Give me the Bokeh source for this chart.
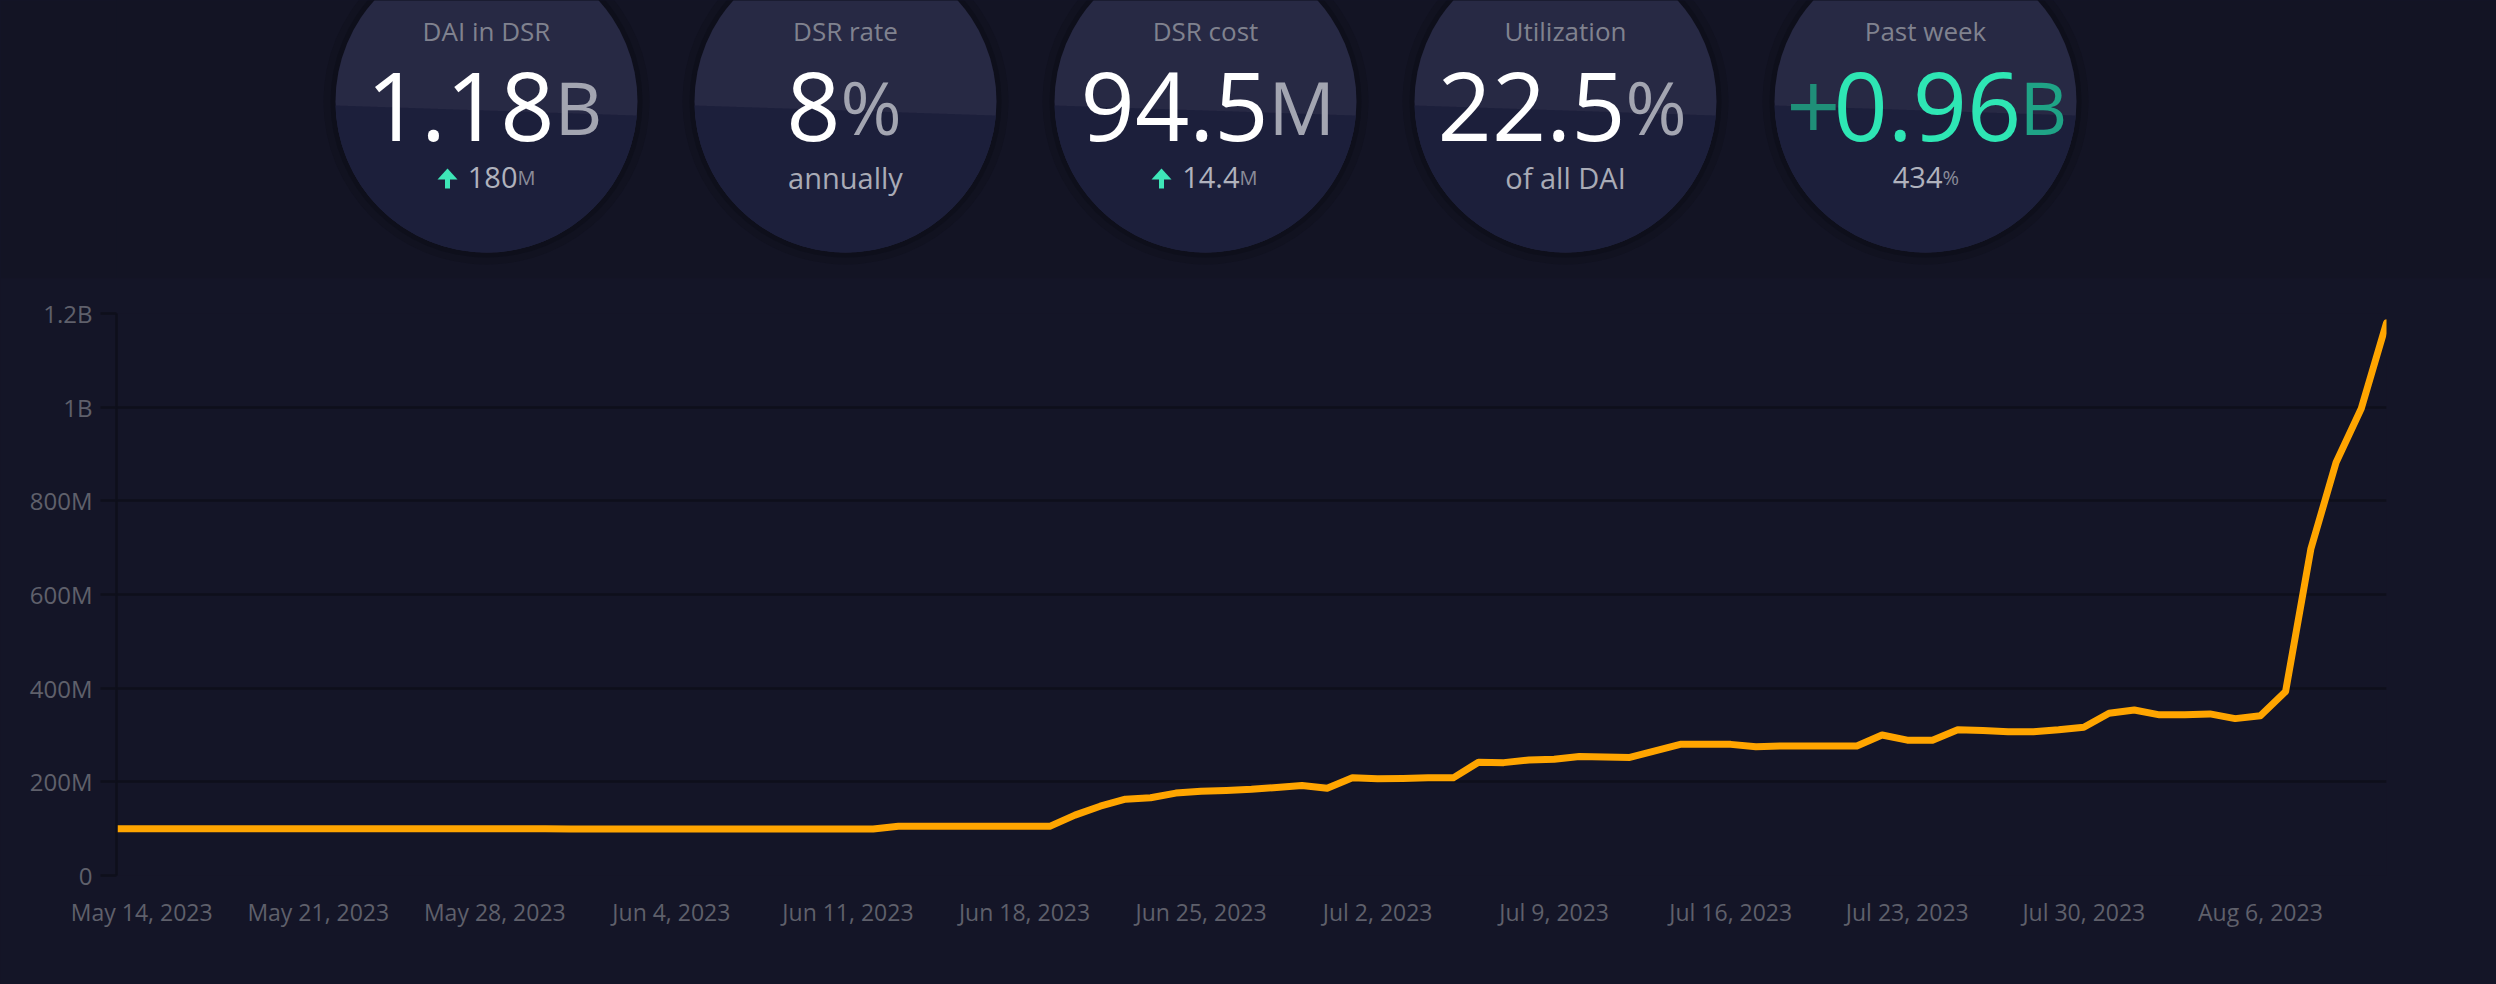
import numpy as np
import pandas as pd
from bokeh.plotting import figure
from bokeh.models import Range1d, FixedTicker, ColumnDataSource
from bokeh.layouts import column
from bokeh.embed import file_html
from bokeh.resources import INLINE
from bokeh.core.properties import value

# ---------------- data ----------------
start_date = "2023-05-13"
dai_in_dsr_millions = [
    100, 100, 100, 100, 100, 100, 100, 100, 100, 100,
    100, 100, 100, 100, 100, 100, 100, 100,
    99.3, 99.3, 99.3, 99.3, 99.3, 99.3, 99.3, 99.3, 99.3, 99.3, 99.3, 99.3, 99.3,
    105, 105, 105, 105, 105, 105, 105,
    129, 148, 163, 166, 176, 180, 181.5, 184, 188, 192,
    186.5, 208.5, 206.5, 207, 208.5, 208.5, 242, 241, 246.5, 248,
    254, 253, 252, 266, 280, 280, 280, 275, 276.5, 276.5,
    276.5, 276.5, 300, 289, 289, 311, 309.5, 307, 307, 311,
    316.5, 346.5, 353.5, 343, 343, 345, 335, 341, 393, 697,
    882, 997, 1180,
]
tick_dates = ["2023-05-14", "2023-05-21", "2023-05-28", "2023-06-04", "2023-06-11",
              "2023-06-18", "2023-06-25", "2023-07-02", "2023-07-09", "2023-07-16",
              "2023-07-23", "2023-07-30", "2023-08-06"]
tick_labels = ["May 14, 2023", "May 21, 2023", "May 28, 2023", "Jun 4, 2023", "Jun 11, 2023",
               "Jun 18, 2023", "Jun 25, 2023", "Jul 2, 2023", "Jul 9, 2023", "Jul 16, 2023",
               "Jul 23, 2023", "Jul 30, 2023", "Aug 6, 2023"]
y_ticks = [0, 200_000_000, 400_000_000, 600_000_000, 800_000_000, 1_000_000_000, 1_200_000_000]
y_labels = ["0", "200M", "400M", "600M", "800M", "1B", "1.2B"]

stat_titles = ["DAI in DSR", "DSR rate", "DSR cost", "Utilization", "Past week"]
stat_values = ["1.18", "8", "94.5", "22.5", "0.96"]
stat_units = ["B", "%", "M", "%", "B"]
stat_sub_values = ["180", "annually", "14.4", "of all DAI", "434"]
stat_sub_units = ["M", "", "M", "", "%"]
stat_sub_arrow = [True, False, True, False, False]

# ---------------- style / layout ----------------
FONT = value("Open Sans")
TOP_BG = "#131424"
BG = "#141527"
GRID = "#0e0f1b"
W = 2496
TOP_H = 278
BOT_H = 984 - TOP_H
FRAME_L, FRAME_R = 116, 2386

cx = [486, 845, 1205, 1565, 1925]
cy = 101
R = 151
split_main = [554, 840, 1268, 1625, None]
split_sub = [517, None, 1239, None, 1942]
arrow_x = [447, None, 1161, None, None]
Y_TITLE = 30.5
Y_MAIN = 106
Y_SUB = 176.5

top = figure(width=W, height=TOP_H, x_range=Range1d(FRAME_L, FRAME_R), y_range=Range1d(TOP_H, 0),
             x_axis_type=None, y_axis_type=None, toolbar_location=None, output_backend="svg",
             min_border=0, min_border_left=FRAME_L, min_border_right=W - FRAME_R,
             background_fill_color=TOP_BG, border_fill_color=TOP_BG, outline_line_color=None)

# shadows
top.circle(x=cx, y=[cy] * 5, radius=R + 12, fill_color="#0a0b14", fill_alpha=0.25, line_color=None)
top.circle(x=cx, y=[cy] * 5, radius=R + 5, fill_color="#0a0b14", fill_alpha=0.35, line_color=None)
# upper (glossy) disc
top.circle(x=cx, y=[cy] * 5, radius=R, fill_color="#272944", line_color=None)
# lower part below a slanted chord
theta = np.linspace(0, 2 * np.pi, 721)
pxs, pys = [], []
for c in cx:
    px = c + R * np.cos(theta)
    py = cy + R * np.sin(theta)
    chord = cy + 9 + (px - c) * (10 / 300)
    pxs.append(list(px))
    pys.append(list(np.maximum(py, chord)))
top.patches(xs=pxs, ys=pys, fill_color="#1c1f3b", line_color=None)

# titles
top.text(x=cx, y=[Y_TITLE] * 5, text=stat_titles, text_align="center", text_baseline="alphabetic",
         text_font=FONT, text_font_size="26px", text_color="#80828f")

# main values (first four)
for i in range(4):
    top.text(x=[split_main[i]], y=[Y_MAIN], text=[stat_values[i]], text_align="right",
             text_baseline="alphabetic", text_font=FONT, text_font_size="95px", text_color="#ffffff")
    top.text(x=[split_main[i]], y=[Y_MAIN], text=[stat_units[i]], text_align="left",
             text_baseline="alphabetic", text_font=FONT, text_font_size="74px", text_color="#a3a5b1")
# past week: "+" "0.96" "B"
top.text(x=[1840], y=[Y_MAIN], text=["+"], text_align="right", text_baseline="alphabetic",
         text_font=FONT, text_font_size="95px", text_color="#1f8f78")
top.text(x=[1833], y=[Y_MAIN], text=[stat_values[4]], text_align="left", text_baseline="alphabetic",
         text_font=FONT, text_font_size="95px", text_color="#2ee6b4")
top.text(x=[2019], y=[Y_MAIN], text=[stat_units[4]], text_align="left", text_baseline="alphabetic",
         text_font=FONT, text_font_size="74px", text_color="#1fa386")

# sub lines
for i in range(5):
    if split_sub[i] is None:
        top.text(x=[cx[i]], y=[Y_SUB], text=[stat_sub_values[i]], text_align="center",
                 text_baseline="alphabetic", text_font=FONT, text_font_size="29px",
                 text_color="#a9abb6")
    else:
        top.text(x=[split_sub[i]], y=[Y_SUB], text=[stat_sub_values[i]], text_align="right",
                 text_baseline="alphabetic", text_font=FONT, text_font_size="29px",
                 text_color="#b0b2bd")
        top.text(x=[split_sub[i]], y=[Y_SUB], text=[stat_sub_units[i]], text_align="left",
                 text_baseline="alphabetic", text_font=FONT, text_font_size="20px",
                 text_color="#8a8c99")

# up arrows (triangle head + stem)
ax_list = [a for a, s in zip(arrow_x, stat_sub_arrow) if s]
top.patches(xs=[[a - 10, a + 10, a] for a in ax_list], ys=[[179, 179, 168] for a in ax_list],
            fill_color="#3ee6b8", line_color=None)
top.quad(left=[a - 2.5 for a in ax_list], right=[a + 2.5 for a in ax_list],
         top=[178] * len(ax_list), bottom=[188] * len(ax_list), fill_color="#3ee6b8", line_color=None)

# ---------------- line chart ----------------
dates = pd.date_range(start_date, periods=len(dai_in_dsr_millions), freq="D")
src = ColumnDataSource(dict(date=dates, dai=[v * 1e6 for v in dai_in_dsr_millions]))

p = figure(width=W, height=BOT_H, x_axis_type="datetime",
           x_range=Range1d(dates[0].to_pydatetime(), dates[-1].to_pydatetime()),
           y_range=Range1d(0, 1.2e9),
           toolbar_location=None, output_backend="svg",
           background_fill_color=BG, border_fill_color=BG, outline_line_color=None,
           min_border_left=FRAME_L, min_border_right=W - FRAME_R,
           min_border_top=313 - TOP_H, min_border_bottom=TOP_H + BOT_H - 875)

p.line("date", "dai", source=src, line_color="#ffa500", line_width=7, line_join="round",
       line_cap="round")

tick_ms = [int(pd.Timestamp(d).value // 10**6) for d in tick_dates]
p.xaxis.ticker = FixedTicker(ticks=tick_ms)
p.xaxis.major_label_overrides = {t: lab for t, lab in zip(tick_ms, tick_labels)}
p.xaxis.axis_line_color = None
p.xaxis.major_tick_line_color = None
p.xaxis.minor_tick_line_color = None
p.xaxis.major_tick_out = 0
p.xaxis.major_tick_in = 0
p.xaxis.major_label_standoff = 20

p.yaxis.ticker = FixedTicker(ticks=y_ticks)
p.yaxis.major_label_overrides = {t: lab for t, lab in zip(y_ticks, y_labels)}
p.yaxis.axis_line_color = GRID
p.yaxis.axis_line_width = 2.5
p.yaxis.major_tick_line_color = GRID
p.yaxis.major_tick_line_width = 2.5
p.yaxis.major_tick_out = 16
p.yaxis.major_tick_in = 0
p.yaxis.minor_tick_line_color = None
p.yaxis.major_label_standoff = 8

for ax in (p.xaxis, p.yaxis):
    ax.major_label_text_font = "Open Sans"
    ax.major_label_text_font_size = "23px"
    ax.major_label_text_color = "#5f606b"
p.yaxis.major_label_text_font_size = "24px"

p.xgrid.visible = False
p.ygrid.grid_line_color = GRID
p.ygrid.grid_line_width = 2.5

layout = column(top, p, spacing=0)
html = file_html(layout, INLINE)
html = html.replace("<body>", '<body style="background-color:#141527;">')
open("out.html", "w").write(html)
